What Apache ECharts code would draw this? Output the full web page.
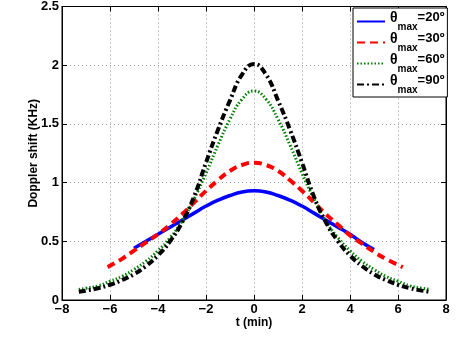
<!DOCTYPE html>
<html><head><meta charset="utf-8">
<script src="https://cdn.jsdelivr.net/npm/echarts@6/dist/echarts.min.js"></script>
<style>html,body{margin:0;padding:0;background:#fff}#c{width:474px;height:359px}</style>
</head><body><div id="c"></div>
<script>
const seriesNames = ['20', '30', '60', '90'];
const t20 = [-5, -4.5, -4, -3.5, -3, -2.5, -2, -1.5, -1, -0.5, 0, 0.5, 1, 1.5, 2, 2.5, 3, 3.5, 4, 4.5, 5];
const v20 = [0.44, 0.50, 0.56, 0.62, 0.68, 0.74, 0.80, 0.85, 0.89, 0.92, 0.93, 0.92, 0.89, 0.85, 0.80, 0.74, 0.68, 0.62, 0.56, 0.49, 0.43];
const t30 = [-6.1, -5.5, -5, -4.5, -4, -3.5, -3, -2.5, -2, -1.5, -1, -0.5, 0, 0.5, 1, 1.5, 2, 2.5, 3, 3.5, 4, 4.5, 5, 5.5, 6.2];
const v30 = [0.28, 0.35, 0.42, 0.49, 0.56, 0.64, 0.73, 0.83, 0.93, 1.02, 1.10, 1.15, 1.17, 1.15, 1.10, 1.02, 0.93, 0.83, 0.73, 0.64, 0.55, 0.48, 0.41, 0.35, 0.28];
const t60 = [-7.3, -7, -6.5, -6, -5.5, -5, -4.5, -4, -3.5, -3, -2.5, -2, -1.5, -1, -0.5, 0, 0.5, 1, 1.5, 2, 2.5, 3, 3.5, 4, 4.5, 5, 5.5, 6, 6.5, 7, 7.3];
const v60 = [0.09, 0.10, 0.12, 0.16, 0.20, 0.26, 0.33, 0.42, 0.53, 0.67, 0.86, 1.08, 1.32, 1.54, 1.71, 1.78, 1.71, 1.54, 1.32, 1.08, 0.86, 0.67, 0.53, 0.42, 0.33, 0.26, 0.20, 0.16, 0.12, 0.10, 0.09];
const t90 = [-7.3, -7, -6.5, -6, -5.5, -5, -4.5, -4, -3.5, -3, -2.5, -2, -1.5, -1, -0.5, 0, 0.5, 1, 1.5, 2, 2.5, 3, 3.5, 4, 4.5, 5, 5.5, 6, 6.5, 7, 7.3];
const v90 = [0.07, 0.08, 0.10, 0.13, 0.17, 0.22, 0.29, 0.38, 0.50, 0.66, 0.88, 1.17, 1.45, 1.70, 1.92, 2.01, 1.92, 1.70, 1.45, 1.17, 0.88, 0.66, 0.50, 0.38, 0.29, 0.22, 0.17, 0.13, 0.10, 0.08, 0.07];
const xTicks = [-8, -6, -4, -2, 0, 2, 4, 6, 8];
const yTicks = [0, 0.5, 1, 1.5, 2, 2.5];

const FONT = 'Liberation Sans, Arial, sans-serif';
const pair = (t, v) => t.map((x, i) => [x, v[i]]);
const styles = {
  '20': {color: '#0000ff', type: 'solid', width: 3.5},
  '30': {color: '#ff0000', type: [8, 5], width: 4},
  '60': {color: '#007f00', type: [1.5, 2], width: 3},
  '90': {color: '#000000', type: [7, 3, 2, 3], width: 4}
};
const dataMap = {'20': pair(t20, v20), '30': pair(t30, v30), '60': pair(t60, v60), '90': pair(t90, v90)};
const nm = k => 'θmax=' + k + 'º';

const axisCommon = {
  axisLine: {show: true, onZero: false, lineStyle: {color: '#000', width: 1}},
  axisTick: {show: true, inside: true, length: 5, lineStyle: {color: '#000'}},
};
const chart = echarts.init(document.getElementById('c'));
chart.setOption({
  animation: false,
  backgroundColor: '#fff',
  grid: {left: 62, right: 28, top: 5, bottom: 59, show: true, borderColor: '#000', borderWidth: 1},
  legend: {
    left: 353, top: 8, orient: 'vertical',
    itemWidth: 28, itemHeight: 12, itemGap: 0,
    padding: [3, 3, 2, 3],
    backgroundColor: '#fff', borderColor: '#000', borderWidth: 1,
    itemStyle: {opacity: 0},
    data: seriesNames.map(nm),
    formatter: n => '{a|θ}{b|max}{c|' + n.slice(4) + '}',
    textStyle: {
      fontFamily: FONT, fontWeight: 'bold', color: '#000',
      rich: {
        a: {fontFamily: FONT, fontSize: 14, fontWeight: 'bold', color: '#000', verticalAlign: 'top', lineHeight: 15},
        b: {fontFamily: FONT, fontSize: 10, fontWeight: 'bold', color: '#000', verticalAlign: 'bottom', padding: [9, 0, 0, 0], lineHeight: 21},
        c: {fontFamily: FONT, fontSize: 13, fontWeight: 'bold', color: '#000', verticalAlign: 'top', lineHeight: 15}
      }
    }
  },
  xAxis: [{
    type: 'value', min: -8, max: 8, interval: 2,
    name: 't (min)', nameLocation: 'middle', nameGap: 17, nameMoveOverlap: false,
    nameTextStyle: {fontFamily: FONT, fontWeight: 'bold', fontSize: 12, color: '#000'},
    ...axisCommon,
    axisLabel: {fontFamily: FONT, fontWeight: 'bold', fontSize: 13, color: '#000', margin: 3,
      formatter: v => String(v).replace('-', '−')},
    splitLine: {show: true, lineStyle: {color: '#999', type: [1, 3], width: 1}}
  }, {
    type: 'value', min: -8, max: 8, interval: 2, position: 'top',
    ...axisCommon, axisLabel: {show: false}, splitLine: {show: false}
  }],
  yAxis: [{
    type: 'value', min: 0, max: 2.5, interval: 0.5,
    name: 'Doppler shift (KHz)', nameLocation: 'middle', nameGap: 22, nameMoveOverlap: false,
    nameTextStyle: {fontFamily: FONT, fontWeight: 'bold', fontSize: 12, color: '#000'},
    ...axisCommon,
    axisLabel: {fontFamily: FONT, fontWeight: 'bold', fontSize: 13, color: '#000', margin: 3},
    splitLine: {show: true, lineStyle: {color: '#999', type: [1, 3], width: 1}}
  }, {
    type: 'value', min: 0, max: 2.5, interval: 0.5, position: 'right',
    ...axisCommon, axisLabel: {show: false}, splitLine: {show: false}
  }],
  series: seriesNames.map(k => ({
    name: nm(k), type: 'line', smooth: true, showSymbol: false, symbol: 'none',
    data: dataMap[k],
    lineStyle: {color: styles[k].color, type: styles[k].type, width: styles[k].width},
    itemStyle: {color: styles[k].color},
    z: 3
  }))
});
</script></body></html>
